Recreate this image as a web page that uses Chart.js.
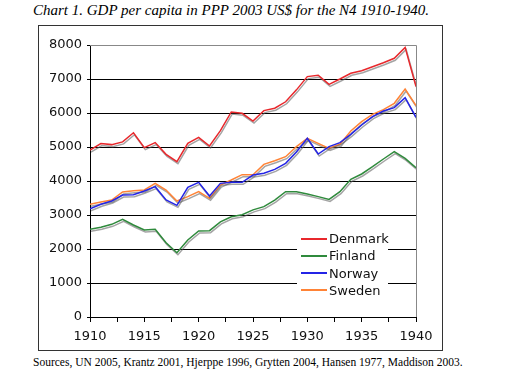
<!DOCTYPE html>
<html>
<head>
<meta charset="utf-8">
<script src="https://cdn.jsdelivr.net/npm/chart.js@4"></script>
<style>
  html, body { margin:0; padding:0; background:#fff; }
  body { width:526px; height:382px; position:relative; overflow:hidden; }
  #title { position:absolute; left:33px; top:2px; font-family:"Liberation Serif","Times New Roman",serif; font-style:italic; font-size:15px; color:#000; white-space:nowrap; }
  #frame { position:absolute; left:38px; top:25px; width:405px; height:326px; border:1px solid #333; box-sizing:border-box; }
  #wrap { position:absolute; left:39px; top:26px; width:404px; height:325px; }
  #footer { position:absolute; left:33px; top:356px; font-family:"Liberation Serif","Times New Roman",serif; font-size:11.5px; color:#000; white-space:nowrap; }
  #legend { position:absolute; left:297px; top:230px; width:91px; height:70px; background:#fff; font-family:"DejaVu Sans",Verdana,sans-serif; font-size:13px; color:#111; }
  .item { position:absolute; left:4px; height:17px; line-height:17px; white-space:nowrap; }
  .swatch { display:inline-block; width:26px; height:2px; vertical-align:middle; margin-right:2px; position:relative; top:-1px; }
</style>
</head>
<body>
<div id="title">Chart 1. GDP per capita in PPP 2003 US$ for the N4 1910-1940.</div>
<div id="frame"></div>
<div id="wrap"><canvas id="c"></canvas></div>
<div id="legend"></div>
<div id="footer">Sources, UN 2005, Krantz 2001, Hjerppe 1996, Grytten 2004, Hansen 1977, Maddison 2003.</div>
<script>
const years = [1910,1911,1912,1913,1914,1915,1916,1917,1918,1919,1920,1921,1922,1923,1924,1925,1926,1927,1928,1929,1930,1931,1932,1933,1934,1935,1936,1937,1938,1939,1940];
const denmark = [4910,5100,5070,5150,5420,4980,5130,4785,4570,5110,5285,5030,5480,6030,5990,5765,6070,6140,6330,6680,7070,7110,6840,7000,7170,7245,7360,7480,7610,7930,6780];
const finland = [2580,2640,2726,2870,2706,2560,2580,2185,1890,2265,2530,2540,2800,2950,3010,3150,3245,3440,3686,3686,3618,3540,3460,3686,4050,4206,4420,4647,4863,4667,4392];
const norway  = [3185,3314,3411,3588,3598,3705,3833,3441,3284,3814,3961,3559,3931,3960,3960,4176,4226,4343,4520,4853,5255,4794,5010,5127,5372,5647,5891,6059,6157,6450,5873];
const sweden  = [3314,3382,3441,3676,3716,3735,3932,3735,3411,3539,3686,3490,3882,4029,4186,4186,4490,4598,4715,5010,5255,5108,4961,5079,5470,5745,5961,6098,6285,6706,6215];
const seriesNames = ["Denmark","Finland","Norway","Sweden"];
const seriesColors = ["#e8282c","#2f8a3c","#2424e6","#ff8336"];
const yTicks = [0,1000,2000,3000,4000,5000,6000,7000,8000];
const xLabelYears = [1910,1915,1920,1925,1930,1935,1940];

const allSeries = [denmark, finland, norway, sweden];
const datasets = allSeries.map((vals, i) => ({
  label: seriesNames[i],
  data: years.map((y, k) => ({x: y, y: vals[k]})),
  borderColor: seriesColors[i],
  borderWidth: 1.5,
  pointRadius: 0,
  tension: 0,
  fill: false
}));

// legend (HTML)
const leg = document.getElementById('legend');
seriesNames.forEach((n, i) => {
  const d = document.createElement('div');
  d.className = 'item';
  d.style.top = (i * 17.3) + 'px';
  d.innerHTML = '<span class="swatch" style="background:' + seriesColors[i] + '"></span>' + n;
  leg.appendChild(d);
});

const shadowPlugin = {
  id: 'shadow',
  beforeDatasetDraw(chart) {
    const ctx = chart.ctx;
    ctx.save();
    ctx.shadowColor = 'rgba(90,90,90,0.55)';
    ctx.shadowOffsetX = 1;
    ctx.shadowOffsetY = 2;
    ctx.shadowBlur = 0.5;
  },
  afterDatasetDraw(chart) { chart.ctx.restore(); }
};
const borderPlugin = {
  id: 'borders',
  afterDraw(chart) {
    const {ctx, chartArea: a} = chart;
    ctx.save();
    ctx.strokeStyle = '#888';
    ctx.lineWidth = 1;
    ctx.beginPath();
    ctx.moveTo(a.left, Math.round(a.top) + 0.5);
    ctx.lineTo(Math.round(a.right) + 0.5, Math.round(a.top) + 0.5);
    ctx.lineTo(Math.round(a.right) + 0.5, a.bottom);
    ctx.stroke();
    ctx.restore();
  }
};

new Chart(document.getElementById('c'), {
  type: 'line',
  data: { datasets },
  plugins: [shadowPlugin, borderPlugin],
  options: {
    responsive: true,
    maintainAspectRatio: false,
    animation: false,
    layout: { padding: { top: 19, right: 27, left: 0, bottom: 0 } },
    plugins: { legend: { display: false }, tooltip: { enabled: false } },
    scales: {
      x: {
        type: 'linear', min: 1910, max: 1940,
        afterBuildTicks(s) {
          const t = [];
          for (let v = 1910; v <= 1940; v += 2.5) t.push({value: v});
          s.ticks = t;
        },
        afterFit(s) { s.height = 34; },
        grid: { drawOnChartArea: false, color: '#000', tickLength: 5 },
        border: { color: '#000', width: 1 },
        ticks: {
          autoSkip: false, maxRotation: 0,
          color: '#111', padding: 7,
          font: { family: 'DejaVu Sans', size: 13 },
          callback: (v) => xLabelYears.includes(v) ? String(v) : ''
        }
      },
      y: {
        min: 0, max: 8000,
        afterBuildTicks(s) { s.ticks = yTicks.map(v => ({value: v})); },
        afterFit(s) { s.width = 51; },
        grid: { color: (c) => c.tick && c.tick.value === 8000 ? '#888' : '#000', tickColor: '#000', tickLength: 3, lineWidth: 1 },
        border: { color: '#000', width: 1 },
        ticks: {
          color: '#111', padding: 5,
          font: { family: 'DejaVu Sans', size: 13 },
          callback: (v) => String(v)
        }
      }
    }
  }
});
</script>
</body>
</html>
